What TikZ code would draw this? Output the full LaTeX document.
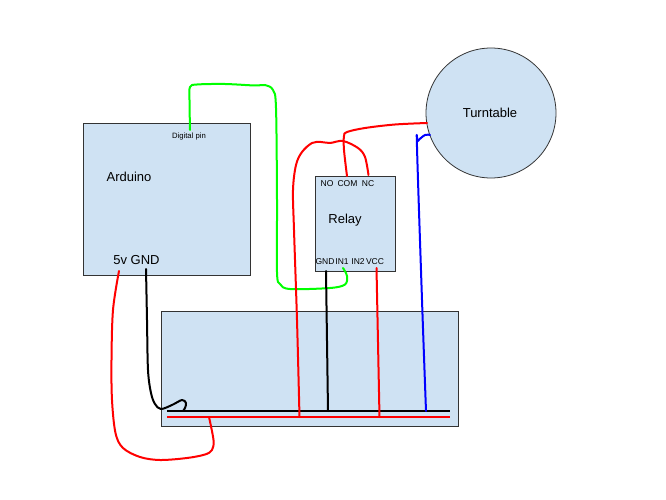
\documentclass[tikz,border=0pt]{standalone}
\usepackage{fontspec}
\setmainfont{Liberation Sans}
\definecolor{boxfill}{HTML}{CFE2F3}
\definecolor{boxline}{HTML}{333333}
\tikzset{
  block/.style={draw=boxline,fill=boxfill,line width=0.8pt,inner sep=0pt,outer sep=0pt},
  big/.style={inner sep=0pt,font=\fontsize{13}{15}\selectfont,text=black},
  small/.style={inner sep=0pt,font=\fontsize{8.5}{10}\selectfont,text=black},
  wire/.style={line width=2pt,line cap=round,line join=round},
  curved/.style={wire,smooth,tension=0.55},
}
\begin{document}
\begin{tikzpicture}[x=1pt,y=-1pt]
\useasboundingbox (0,0) rectangle (666,500);
\fill[white] (0,0) rectangle (666,500);
% blocks
\node[block,minimum width=167pt,minimum height=152pt] (arduino) at (166.5,199) {};
\node[block,minimum width=80pt,minimum height=95pt] (relay) at (355,223.5) {};
\node[block,minimum width=297pt,minimum height=115pt] (board) at (309.5,368.5) {};
\node[block,circle,minimum size=130pt] (turntable) at (491,113) {};
% labels
\node[big] (arduinotext) at (129,176.5) {Arduino};
\node[big] (powertext) at (136.5,260.5) {5v GND};
\node[small,font=\fontsize{7.7}{10}\selectfont] (digital) at (189,136.5) {Digital pin};
\node[big] (relaytext) at (345,220.5) {Relay};
\node[big] (turntext) at (490,113) {Turntable};
\node[small] (no) at (327,183.5) {NO};
\node[small] (com) at (347.5,183.5) {COM};
\node[small] (nc) at (368,183.5) {NC};
\node[small] (gnd) at (325,261.5) {GND};
\node[small] (inone) at (342,261.5) {IN1};
\node[small] (intwo) at (358,261.5) {IN2};
\node[small] (vcc) at (375,261.5) {VCC};
% end points
\coordinate (dp) at (190,130);
\coordinate (ardfive) at (119,271);
\coordinate (ardgnd) at (146,269);
\coordinate (blackstart) at (167,411);
\coordinate (blackend) at (450,411);
\coordinate (redstart) at (167,417);
\coordinate (redend) at (450,417);
% bus
\draw[wire,line cap=butt] (blackstart) -- (blackend);
\draw[wire,line cap=butt,red] (redstart) -- (redend);
% green
\draw[curved,color=green] plot coordinates {(dp) (189.5,100) (190,87) (197,84.5) (225,84) (255,85.5) (265,85) (273,90) (276,108) (277,200) (277,272) (280,284) (290,289) (330,288) (345,284.5) (347,276) (343,268)};
% relay wires
\draw[curved,red] plot coordinates {(299.5,417) (297,320) (294,230) (293,190) (296,165) (302,152) (312,143) (321,142) (330,143) (343,141) (358,148) (365,157) (368.5,175)};
\draw[curved,red] plot coordinates {(347,176) (344,150) (344,136) (347,132) (365,128) (395,124.5) (427,123)};
\draw[wire,black] (326,271) -- (328,411);
\draw[wire,red] (376.5,268) -- (379.5,417);
\draw[curved,blue] plot coordinates {(426,411) (422,300) (417,147) (418,141) (425,135) (430,135)};
% arduino wires
\draw[curved,black] plot coordinates {(ardgnd) (147,320) (148,370) (151,393) (155,404) (161,409) (172,405) (182,400) (186,403) (185,408) (183,411)};
\draw[curved,red] plot coordinates {(ardfive) (113,310) (111.5,360) (112,400) (115.5,433) (123,448) (140,457) (160,460) (187,458) (205,454.5) (212,450) (213.5,440) (209,417)};
\end{tikzpicture}
\end{document}
